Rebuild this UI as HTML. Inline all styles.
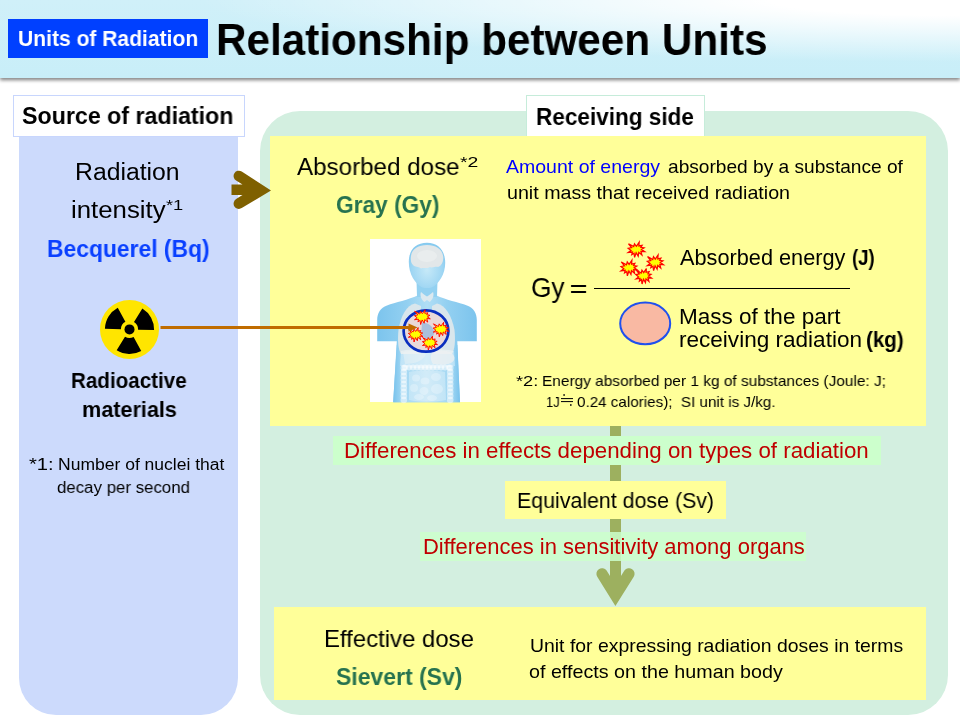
<!DOCTYPE html>
<html><head><meta charset="utf-8"><title>Relationship between Units</title><style>
html,body{margin:0;padding:0;background:#fff;width:960px;height:720px;overflow:hidden;position:relative;font-family:"Liberation Sans",sans-serif}
.a{position:absolute}
#hdr{left:0;top:0;width:960px;height:77.5px;
 background:radial-gradient(ellipse 760px 62px at 960px 0px,#ffffff 0%,#ffffff 25%,rgba(255,255,255,0) 100%),linear-gradient(to bottom,#d0f0f9 0%,#c8eef8 100%);
 box-shadow:0 2.5px 3.5px rgba(0,0,0,0.48)}
#lbl{left:8px;top:19px;width:200px;height:39px;background:#0040ff}
#lp{left:19px;top:125px;width:219px;height:590px;background:#ccdafc;border-radius:0 0 37px 37px}
#gp{left:260px;top:111.2px;width:688px;height:603.8px;background:#d3efe0;border-radius:40px}
#sbox{left:13px;top:95px;width:230px;height:40px;background:#fff;border:1px solid #c8d6fd}
#rbox{left:526px;top:95px;width:177px;height:41px;background:#fff;border:1px solid #c6ecda}
#y1{left:270px;top:136px;width:656px;height:290px;background:#ffff99}
#y2{left:274px;top:607px;width:652px;height:93px;background:#ffff99}
#d1{left:333px;top:436px;width:548px;height:29px;background:#ccffcc}
#eq{left:505px;top:481px;width:221px;height:38px;background:#ffff99}
#d2{left:420px;top:532px;width:386px;height:29px;background:rgba(204,255,204,0.86)}
#bar{left:610px;top:426px;width:11px;height:152px;background:#9db05f}
#img{left:370px;top:239px;width:111px;height:163px;background:#fff}
#frac{left:594px;top:288px;width:256px;height:1px;background:#000}

.t{position:absolute;white-space:pre;font-family:"Liberation Sans", sans-serif;transform-origin:0 0;will-change:transform}
</style></head><body>
<div id="hdr" class="a"></div>
<div id="lbl" class="a"></div>
<div id="lp" class="a"></div>
<div id="gp" class="a"></div>
<div id="sbox" class="a"></div>
<div id="rbox" class="a"></div>
<div id="y1" class="a"></div>
<div id="bar" class="a"></div>
<div id="y2" class="a"></div>
<div id="d1" class="a"></div>
<div id="eq" class="a"></div>
<div id="d2" class="a"></div>
<div id="img" class="a"></div>
<div id="frac" class="a"></div>
<svg class="a" style="left:0;top:0" width="960" height="720" viewBox="0 0 960 720">
<defs>
 <linearGradient id="bg" x1="0" x2="1" y1="0" y2="0">
  <stop offset="0" stop-color="#7cc4ed"/><stop offset="0.3" stop-color="#93d0f1"/><stop offset="0.5" stop-color="#b0def5"/><stop offset="0.7" stop-color="#93d0f1"/><stop offset="1" stop-color="#7cc4ed"/>
 </linearGradient>
 <linearGradient id="tg" x1="0" x2="1" y1="0" y2="0">
  <stop offset="0" stop-color="#78c2ec"/><stop offset="0.12" stop-color="#9fd6f3"/><stop offset="0.5" stop-color="#bfe3f5"/><stop offset="0.88" stop-color="#9fd6f3"/><stop offset="1" stop-color="#78c2ec"/>
 </linearGradient>
 <radialGradient id="hg" cx="0.5" cy="0.6" r="0.6">
  <stop offset="0" stop-color="#c6e9f8"/><stop offset="0.7" stop-color="#9fd6f3"/><stop offset="1" stop-color="#84c9ef"/>
 </radialGradient>
</defs>
<path d="M417.5 295.5 C409 299.5 395 302.5 387 305.5 C380.5 308 377.2 313 377.2 320 L377.2 341.2 L396.8 341.2 L393.2 402.3 L460 402.3 L457.3 341.2 L476.8 341.2 L476.8 320 C476.8 313 473.5 308 467 305.5 C459 302.5 445 299.5 436.5 295.5 Z" fill="url(#bg)"/>
<path d="M396.8 345 L393.2 402.3 L460 402.3 L457.3 345 Z" fill="url(#tg)"/>
<path d="M416.5 280 L437.5 280 L437 297 L417 297 Z" fill="#93d1f1"/>
<path d="M427 242.8 C438.5 242.8 445.2 251 445.2 263 C445.2 274 439 284 431.5 287.5 C429 288.3 425 288.3 422.5 287.5 C415 284 408.8 274 408.8 262 C408.8 250 415.5 242.8 427 242.8 Z" fill="url(#hg)"/>
<path d="M410.8 258 C411 249 418 245 427 245 C436 245 443 249 443.3 258 C443 263 441 266 438 267 C435 266 433 268.5 430 267 C427 269 424 267 421 268.5 C418 266 415 267.5 413 265 C411 263 410.8 261 410.8 258 Z" fill="#e2e7e9"/>
<ellipse cx="427" cy="256" rx="10" ry="6" fill="#eceff0" opacity="0.7"/>
<path d="M421 292 C423.5 294.5 425.5 295.5 427 296.5 C428.5 295.5 430.5 294.5 433 292 C434.5 295.5 432.5 300 429.5 302 L427 300 L424.5 302 C421.5 300 419.5 295.5 421 292 Z" fill="#dce9ef"/>
<path d="M415 303.5 C407 305 400.5 316 398.5 330 C397.5 340 398 349 401 354 L421 354 L421 306 Z" fill="#d9e6ec"/>
<path d="M437 303.5 C445 305 452 316 454.5 330 C455.5 340 455 349 452 354 L432 354 L432 306 Z" fill="#d9e6ec"/>
<path d="M401 351 C412 348 442 348 454 351 L455 366 C445 369 410 369 400 366 Z" fill="#ffffff" opacity="0.35"/>
<path d="M433 351 C446 349 454 352 454.5 358 C454 364 446 366 433 364 C430 360 430 355 433 351 Z" fill="#eef0f1" opacity="0.75"/>
<path d="M403 352 C410 350 420 351 426 354 C424 360 416 364 405 364 Z" fill="#f0f4f5" opacity="0.45"/>
<circle cx="403.8" cy="368" r="3.3" fill="#ffffff" opacity="0.5"/>
<circle cx="450.2" cy="368" r="3.3" fill="#ffffff" opacity="0.5"/>
<circle cx="403.8" cy="372" r="3.3" fill="#ffffff" opacity="0.5"/>
<circle cx="450.2" cy="372" r="3.3" fill="#ffffff" opacity="0.5"/>
<circle cx="403.8" cy="376" r="3.3" fill="#ffffff" opacity="0.5"/>
<circle cx="450.2" cy="376" r="3.3" fill="#ffffff" opacity="0.5"/>
<circle cx="403.8" cy="380" r="3.3" fill="#ffffff" opacity="0.5"/>
<circle cx="450.2" cy="380" r="3.3" fill="#ffffff" opacity="0.5"/>
<circle cx="403.8" cy="384" r="3.3" fill="#ffffff" opacity="0.5"/>
<circle cx="450.2" cy="384" r="3.3" fill="#ffffff" opacity="0.5"/>
<circle cx="403.8" cy="388" r="3.3" fill="#ffffff" opacity="0.5"/>
<circle cx="450.2" cy="388" r="3.3" fill="#ffffff" opacity="0.5"/>
<circle cx="403.8" cy="392" r="3.3" fill="#ffffff" opacity="0.5"/>
<circle cx="450.2" cy="392" r="3.3" fill="#ffffff" opacity="0.5"/>
<circle cx="403.8" cy="396" r="3.3" fill="#ffffff" opacity="0.5"/>
<circle cx="450.2" cy="396" r="3.3" fill="#ffffff" opacity="0.5"/>
<circle cx="403.8" cy="400" r="3.3" fill="#ffffff" opacity="0.5"/>
<circle cx="450.2" cy="400" r="3.3" fill="#ffffff" opacity="0.5"/>
<circle cx="405" cy="367.5" r="3" fill="#ffffff" opacity="0.5"/>
<circle cx="409" cy="367.5" r="3" fill="#ffffff" opacity="0.5"/>
<circle cx="413" cy="367.5" r="3" fill="#ffffff" opacity="0.5"/>
<circle cx="417" cy="367.5" r="3" fill="#ffffff" opacity="0.5"/>
<circle cx="421" cy="367.5" r="3" fill="#ffffff" opacity="0.5"/>
<circle cx="425" cy="367.5" r="3" fill="#ffffff" opacity="0.5"/>
<circle cx="429" cy="367.5" r="3" fill="#ffffff" opacity="0.5"/>
<circle cx="433" cy="367.5" r="3" fill="#ffffff" opacity="0.5"/>
<circle cx="437" cy="367.5" r="3" fill="#ffffff" opacity="0.5"/>
<circle cx="441" cy="367.5" r="3" fill="#ffffff" opacity="0.5"/>
<circle cx="445" cy="367.5" r="3" fill="#ffffff" opacity="0.5"/>
<circle cx="449" cy="367.5" r="3" fill="#ffffff" opacity="0.5"/>
<path d="M409 372 C418 370 436 370 445 372 L446 400 C436 402 418 402 409 400 Z" fill="#ffffff" opacity="0.3"/>
<ellipse cx="416" cy="378" rx="4" ry="3.5" fill="#ffffff" opacity="0.28"/>
<ellipse cx="425" cy="381" rx="4.5" ry="3.5" fill="#ffffff" opacity="0.28"/>
<ellipse cx="436" cy="377" rx="5" ry="4" fill="#ffffff" opacity="0.28"/>
<ellipse cx="414" cy="388" rx="4" ry="4" fill="#ffffff" opacity="0.28"/>
<ellipse cx="424" cy="391" rx="4.5" ry="4" fill="#ffffff" opacity="0.28"/>
<ellipse cx="437" cy="389" rx="6" ry="5" fill="#ffffff" opacity="0.28"/>
<ellipse cx="419" cy="397" rx="5" ry="3" fill="#ffffff" opacity="0.28"/>
<ellipse cx="432" cy="398" rx="5" ry="3" fill="#ffffff" opacity="0.28"/>
<ellipse cx="426" cy="331" rx="22.4" ry="20.7" fill="#ead9d9" stroke="#0a2fbf" stroke-width="2.7"/>
<path d="M422 322.5 C427 322 433 326 434 331 C435 336 431 339 427 339 C423 338 421 334 421.5 330 Z" fill="#a9bfdd"/>
<polygon points="422.35,313.67 425.09,309.70 424.82,313.35 427.93,312.75 426.69,314.71 429.93,315.28 427.36,316.88 430.30,318.81 426.79,318.57 427.76,322.10 424.72,319.61 424.15,323.22 422.15,319.93 420.65,324.50 420.08,320.41 417.91,321.77 418.57,319.25 414.50,319.69 417.14,317.77 414.40,315.60 417.81,314.92 414.67,311.27 419.78,314.03 420.55,311.27" fill="#ffff00" stroke="#ff0000" stroke-width="0.95" stroke-linejoin="miter"/>
<polygon points="440.95,326.19 443.62,322.30 443.36,325.87 446.39,325.29 445.19,327.21 448.34,327.76 445.83,329.33 448.70,331.22 445.28,330.99 446.22,334.45 443.26,332.00 442.71,335.55 440.76,332.33 439.29,336.80 438.74,332.79 436.62,334.13 437.27,331.66 433.30,332.09 435.87,330.20 433.20,328.08 436.52,327.41 433.47,323.84 438.45,326.54 439.19,323.84" fill="#ffff00" stroke="#ff0000" stroke-width="0.95" stroke-linejoin="miter"/>
<polygon points="415.65,331.47 418.18,327.60 417.93,331.15 420.81,330.57 419.67,332.48 422.66,333.02 420.28,334.58 423.00,336.46 419.76,336.23 420.65,339.66 417.84,337.24 417.32,340.76 415.47,337.56 414.07,342.00 413.55,338.02 411.54,339.34 412.16,336.89 408.39,337.32 410.83,335.45 408.30,333.34 411.45,332.68 408.55,329.13 413.28,331.81 413.98,329.13" fill="#ffff00" stroke="#ff0000" stroke-width="0.95" stroke-linejoin="miter"/>
<polygon points="429.95,339.83 432.55,336.10 432.30,339.53 435.25,338.97 434.08,340.81 437.15,341.34 434.71,342.84 437.50,344.65 434.17,344.43 435.08,347.74 432.20,345.40 431.66,348.80 429.76,345.71 428.33,350.00 427.79,346.16 425.73,347.44 426.36,345.07 422.49,345.49 425.00,343.68 422.40,341.64 425.63,341.00 422.66,337.58 427.51,340.17 428.24,337.58" fill="#ffff00" stroke="#ff0000" stroke-width="0.95" stroke-linejoin="miter"/>
<polygon points="636.35,246.28 639.16,242.20 638.88,245.95 642.07,245.34 640.80,247.35 644.12,247.93 641.49,249.57 644.50,251.55 640.91,251.31 641.89,254.93 638.78,252.37 638.20,256.09 636.15,252.71 634.60,257.40 634.02,253.20 631.79,254.60 632.48,252.01 628.30,252.46 631.01,250.49 628.20,248.26 631.69,247.56 628.48,243.81 633.72,246.65 634.50,243.81" fill="#ffff00" stroke="#ff0000" stroke-width="1.25" stroke-linejoin="miter"/>
<polygon points="655.30,259.19 658.06,255.00 657.79,258.85 660.91,258.22 659.67,260.28 662.93,260.88 660.34,262.57 663.30,264.60 659.77,264.35 660.74,268.07 657.69,265.44 657.11,269.25 655.10,265.79 653.59,270.60 653.01,266.29 650.83,267.72 651.50,265.07 647.40,265.54 650.06,263.50 647.30,261.22 650.73,260.50 647.57,256.66 652.72,259.56 653.49,256.66" fill="#ffff00" stroke="#ff0000" stroke-width="1.25" stroke-linejoin="miter"/>
<polygon points="629.10,264.46 631.89,260.30 631.62,264.12 634.79,263.50 633.53,265.55 636.82,266.14 634.21,267.82 637.20,269.84 633.63,269.59 634.61,273.28 631.51,270.67 630.94,274.46 628.90,271.02 627.36,275.80 626.79,271.51 624.57,272.94 625.25,270.30 621.10,270.77 623.79,268.75 621.00,266.48 624.47,265.77 621.28,261.95 626.48,264.84 627.26,261.95" fill="#ffff00" stroke="#ff0000" stroke-width="1.25" stroke-linejoin="miter"/>
<polygon points="643.70,272.66 646.35,268.50 646.09,272.32 649.10,271.70 647.91,273.75 651.04,274.34 648.55,276.02 651.40,278.04 648.00,277.79 648.94,281.48 646.00,278.87 645.44,282.66 643.51,279.22 642.05,284.00 641.50,279.71 639.40,281.14 640.04,278.50 636.10,278.97 638.65,276.95 636.00,274.68 639.30,273.97 636.26,270.15 641.21,273.04 641.95,270.15" fill="#ffff00" stroke="#ff0000" stroke-width="1.25" stroke-linejoin="miter"/>
 <path d="M231.5 184.5 L242.49 184.5 L236.09 180.5 A5.3 5.3 0 0 1 241.71 171.5 L271 190.5 L241.71 208.1 A5.3 5.3 0 0 1 236.09 199.1 L242.49 195.1 L231.5 195.1 Z" fill="#7f6000"/>
 <path d="M610 576 L606.6 570.6 A5.6 5.6 0 0 0 597.4 577 L615.4 606 L633.6 577 A5.6 5.6 0 0 0 624.4 570.6 L621 576 Z" fill="#9db05f"/>
 <rect x="570.8" y="285" width="15.5" height="2" rx="1" fill="#000"/>
 <rect x="561" y="398" width="12" height="1.1" fill="#111"/>
 <rect x="561" y="401" width="12" height="1.1" fill="#111"/>
 <rect x="563.3" y="394.2" width="1.6" height="1.6" fill="#111"/>
 <rect x="570" y="404.2" width="1.6" height="1.6" fill="#111"/>
 <rect x="570.8" y="291" width="15.5" height="2" rx="1" fill="#000"/>
 <ellipse cx="645.2" cy="323.4" rx="25" ry="20.8" fill="#f9b9a3" stroke="#1f50ee" stroke-width="2"/>
 <g transform="translate(129.5 329.4)">
  <circle r="29.5" fill="#ffe500"/>
  <circle r="5" fill="#000"/>
  <path id="blade" d="M8.6 0 L24.6 0 A24.6 24.6 0 0 0 12.3 -21.3 L4.3 -7.45 A8.6 8.6 0 0 1 8.6 0Z" fill="#000" transform="rotate(1.5)"/>
  <use href="#blade" transform="rotate(120)"/>
  <use href="#blade" transform="rotate(240)"/>
 </g>
 <rect x="160.5" y="326" width="249" height="3" fill="#c06c00"/>
 <path d="M408.5 323.4 L417.6 327.5 L408.5 331.7 Z" fill="#c06c00"/>
</svg>
<div id="t1" class="t" style="left:17.90px;top:27.63px;font-size:21.21px;line-height:21.21px;transform:scaleX(0.9934)"><span style="font-weight:700;color:#fff">Units of Radiation</span></div>
<div id="t2" class="t" style="left:215.99px;top:18.78px;font-size:43.55px;line-height:43.55px;transform:scaleX(0.9698)"><span style="font-weight:700;color:#000">Relationship between Units</span></div>
<div id="t3" class="t" style="left:21.58px;top:104.54px;font-size:23.28px;line-height:23.28px;transform:scaleX(0.9976)"><span style="font-weight:700;color:#000">Source of radiation</span></div>
<div id="t4" class="t" style="left:535.77px;top:105.10px;font-size:24.56px;line-height:24.56px;transform:scaleX(0.9184)"><span style="font-weight:700;color:#000">Receiving side</span></div>
<div id="t5" class="t" style="left:75.46px;top:160.12px;font-size:24.42px;line-height:24.42px;transform:scaleX(1.0146)"><span style="font-weight:400;color:#000">Radiation</span></div>
<div id="t6" class="t" style="left:71.47px;top:198.32px;font-size:24.42px;line-height:24.42px;transform:scaleX(1.0575)"><span style="font-weight:400;color:#000">intensity</span></div>
<div id="t7" class="t" style="left:166.09px;top:197.49px;font-size:15.55px;line-height:15.55px;transform:scaleX(1.1759)"><span style="font-weight:400;color:#000">*1</span></div>
<div id="t8" class="t" style="left:46.72px;top:236.96px;font-size:24.23px;line-height:24.23px;transform:scaleX(0.9435)"><span style="font-weight:700;color:#0a40ff">Becquerel (Bq)</span></div>
<div id="t9" class="t" style="left:70.65px;top:369.54px;font-size:21.80px;line-height:21.80px;transform:scaleX(0.9456)"><span style="font-weight:700;color:#000">Radioactive</span></div>
<div id="t10" class="t" style="left:81.50px;top:399.34px;font-size:21.80px;line-height:21.80px;transform:scaleX(0.9919)"><span style="font-weight:700;color:#000">materials</span></div>
<div id="t11a" class="t" style="left:29.05px;top:456.26px;font-size:17.30px;line-height:17.30px;transform:scaleX(1.1674)"><span style="font-weight:400;color:#000">*1:</span></div>
<div id="t11" class="t" style="left:57.77px;top:456.26px;font-size:17.30px;line-height:17.30px;transform:scaleX(1.0133)"><span style="font-weight:400;color:#000">Number of nuclei that</span></div>
<div id="t12" class="t" style="left:56.63px;top:479.06px;font-size:17.30px;line-height:17.30px;transform:scaleX(0.9747)"><span style="font-weight:400;color:#000">decay per second</span></div>
<div id="t13" class="t" style="left:297.10px;top:155.12px;font-size:24.42px;line-height:24.42px;transform:scaleX(0.9902)"><span style="font-weight:400;color:#000">Absorbed dose</span></div>
<div id="t14" class="t" style="left:459.60px;top:154.36px;font-size:15.55px;line-height:15.55px;transform:scaleX(1.2472)"><span style="font-weight:400;color:#000">*2</span></div>
<div id="t15" class="t" style="left:336.04px;top:194.48px;font-size:23.73px;line-height:23.73px;transform:scaleX(0.9568)"><span style="font-weight:700;color:#26724f">Gray (Gy)</span></div>
<div id="t16a" class="t" style="left:506.00px;top:158.05px;font-size:18.60px;line-height:18.60px;transform:scaleX(1.0492)"><span style="font-weight:400;color:#0000ff">Amount of energy</span></div>
<div id="t16b" class="t" style="left:667.79px;top:158.05px;font-size:18.60px;line-height:18.60px;transform:scaleX(1.0283)"><span style="font-weight:400;color:#000">absorbed by a substance of</span></div>
<div id="t17" class="t" style="left:506.83px;top:183.85px;font-size:18.60px;line-height:18.60px;transform:scaleX(1.0574)"><span style="font-weight:400;color:#000">unit mass that received radiation</span></div>
<div id="t18" class="t" style="left:530.94px;top:274.01px;font-size:27.80px;line-height:27.80px;transform:scaleX(0.9470)"><span style="font-weight:400;color:#000">Gy</span></div>
<div id="t20" class="t" style="left:680.48px;top:246.83px;font-size:21.22px;line-height:21.22px;transform:scaleX(1.0237)"><span style="font-weight:400;color:#000">Absorbed energy</span></div>
<div id="t20b" class="t" style="left:851.72px;top:246.83px;font-size:21.22px;line-height:21.22px;transform:scaleX(0.8767)"><span style="font-weight:700;color:#000">(J)</span></div>
<div id="t21" class="t" style="left:678.90px;top:306.59px;font-size:21.51px;line-height:21.51px;transform:scaleX(1.0475)"><span style="font-weight:400;color:#000">Mass of the part</span></div>
<div id="t22" class="t" style="left:678.54px;top:330.49px;font-size:21.51px;line-height:21.51px;transform:scaleX(1.0488)"><span style="font-weight:400;color:#000">receiving radiation</span></div>
<div id="t22b" class="t" style="left:866.05px;top:330.49px;font-size:21.51px;line-height:21.51px;transform:scaleX(0.9555)"><span style="font-weight:700;color:#000">(kg)</span></div>
<div id="t23a" class="t" style="left:515.75px;top:373.46px;font-size:15.55px;line-height:15.55px;transform:scaleX(1.1751)"><span style="font-weight:400;color:#000">*2:</span></div>
<div id="t23" class="t" style="left:541.95px;top:373.46px;font-size:15.55px;line-height:15.55px;transform:scaleX(0.9925)"><span style="font-weight:400;color:#000">Energy absorbed per 1 kg of substances (Joule: J;</span></div>
<div id="t24a" class="t" style="left:545.73px;top:394.46px;font-size:15.55px;line-height:15.55px;transform:scaleX(0.8277)"><span style="font-weight:400;color:#000">1J</span></div>
<div id="t24b" class="t" style="left:576.75px;top:394.46px;font-size:15.55px;line-height:15.55px;transform:scaleX(0.9776)"><span style="font-weight:400;color:#000">0.24 calories);  SI unit is J/kg.</span></div>
<div id="t25" class="t" style="left:344.27px;top:440.42px;font-size:21.95px;line-height:21.95px;transform:scaleX(1.0164)"><span style="font-weight:400;color:#c00000">Differences in effects depending on types of radiation</span></div>
<div id="t26" class="t" style="left:517.04px;top:489.54px;font-size:21.80px;line-height:21.80px;transform:scaleX(0.9799)"><span style="font-weight:400;color:#000">Equivalent dose (Sv)</span></div>
<div id="t27" class="t" style="left:422.98px;top:536.44px;font-size:21.80px;line-height:21.80px;transform:scaleX(1.0080)"><span style="font-weight:400;color:#c00000">Differences in sensitivity among organs</span></div>
<div id="t28" class="t" style="left:324.12px;top:627.27px;font-size:24.13px;line-height:24.13px;transform:scaleX(0.9920)"><span style="font-weight:400;color:#000">Effective dose</span></div>
<div id="t29" class="t" style="left:336.03px;top:666.48px;font-size:23.73px;line-height:23.73px;transform:scaleX(0.9688)"><span style="font-weight:700;color:#26724f">Sievert (Sv)</span></div>
<div id="t30" class="t" style="left:529.83px;top:637.09px;font-size:18.34px;line-height:18.34px;transform:scaleX(1.0587)"><span style="font-weight:400;color:#000">Unit for expressing radiation doses in terms</span></div>
<div id="t31" class="t" style="left:528.92px;top:662.99px;font-size:18.31px;line-height:18.31px;transform:scaleX(1.0770)"><span style="font-weight:400;color:#000">of effects on the human body</span></div>
</body></html>
